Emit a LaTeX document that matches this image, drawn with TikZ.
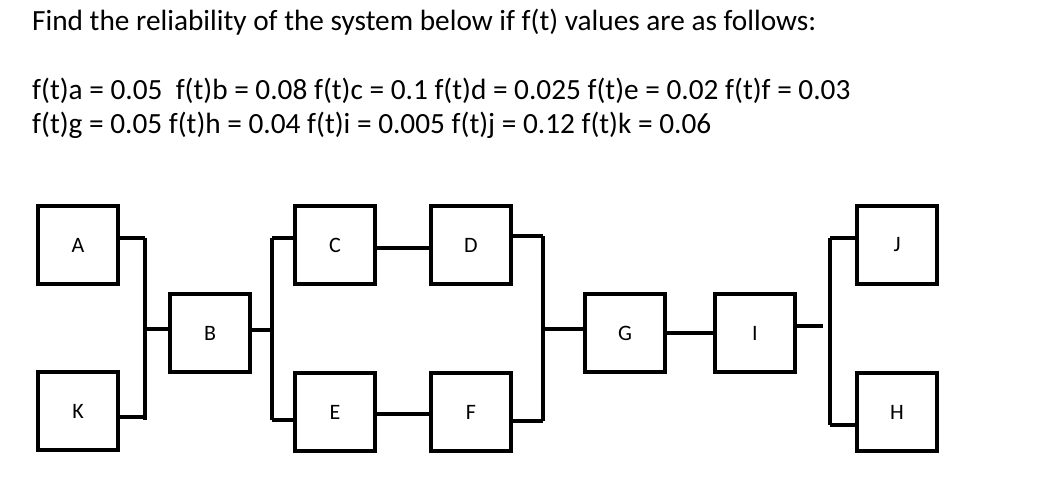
\documentclass[tikz,border=0pt]{standalone}
\usepackage{fontspec}
\setmainfont{Carlito}
\begin{document}
\begin{tikzpicture}[x=1pt,y=-1pt,
  blk/.style={draw,line width=4pt,minimum width=80pt,minimum height=78pt,inner sep=0pt,font=\fontsize{22}{22}\selectfont},
  ln/.style={line width=4pt},
  txt/.style={anchor=base west,inner sep=0pt,font=\fontsize{29.3}{29.3}\selectfont}]
\useasboundingbox (0,0) rectangle (1050,480);
\node[txt] (t1) at (32,30) {Find the reliability of the system below if f(t) values are as follows:};
\node[txt] (t2) at (32,99) {f(t)a = 0.05 \ f(t)b = 0.08 f(t)c = 0.1 f(t)d = 0.025 f(t)e = 0.02 f(t)f = 0.03};
\node[txt] (t3) at (32,133) {f(t)g = 0.05 f(t)h = 0.04 f(t)i = 0.005 f(t)j = 0.12 f(t)k = 0.06};
\node[blk] (A) at (78,245) {A};
\node[blk] (K) at (78,411) {K};
\node[blk] (B) at (210,333) {B};
\node[blk] (C) at (335,245) {C};
\node[blk] (D) at (471,245) {D};
\node[blk] (E) at (335,412) {E};
\node[blk] (F) at (471,412) {F};
\node[blk] (G) at (625,333) {G};
\node[blk] (I) at (755,333) {I};
\node[blk] (J) at (897,245) {J};
\node[blk] (H) at (897,412) {H};
\coordinate (b1t) at (145,238); \coordinate (b1b) at (145,420);
\coordinate (b2t) at (272,238); \coordinate (b2b) at (272,420);
\coordinate (b3t) at (543,236); \coordinate (b3b) at (543,421);
\coordinate (b4t) at (830,238); \coordinate (b4b) at (830,425);
\coordinate (s4) at (823,326);
\draw[ln] (b1t) -- (b1b);
\draw[ln] (A.east |- b1t) -- (b1t);
\draw[ln] (K.east |- 0,417) -- (145,417);
\draw[ln] (145,329) -- (B.west |- 0,329);
\draw[ln] (b2t) -- (b2b);
\draw[ln] (B.east |- 0,330) -- (272,330);
\draw[ln] (b2t) -- (C.west |- b2t);
\draw[ln] (b2b) -- (E.west |- b2b);
\draw[ln] (C.east |- 0,248) -- (D.west |- 0,248);
\draw[ln] (E.east |- 0,414) -- (F.west |- 0,414);
\draw[ln] (b3t) -- (b3b);
\draw[ln] (D.east |- b3t) -- (b3t);
\draw[ln] (F.east |- b3b) -- (b3b);
\draw[ln] (543,329) -- (G.west |- 0,329);
\draw[ln] (G.east |- 0,333) -- (I.west);
\draw[ln] (I.east |- s4) -- (s4);
\draw[ln] (b4t) -- (b4b);
\draw[ln] (b4t) -- (J.west |- b4t);
\draw[ln] (b4b) -- (H.west |- b4b);
\end{tikzpicture}
\end{document}
